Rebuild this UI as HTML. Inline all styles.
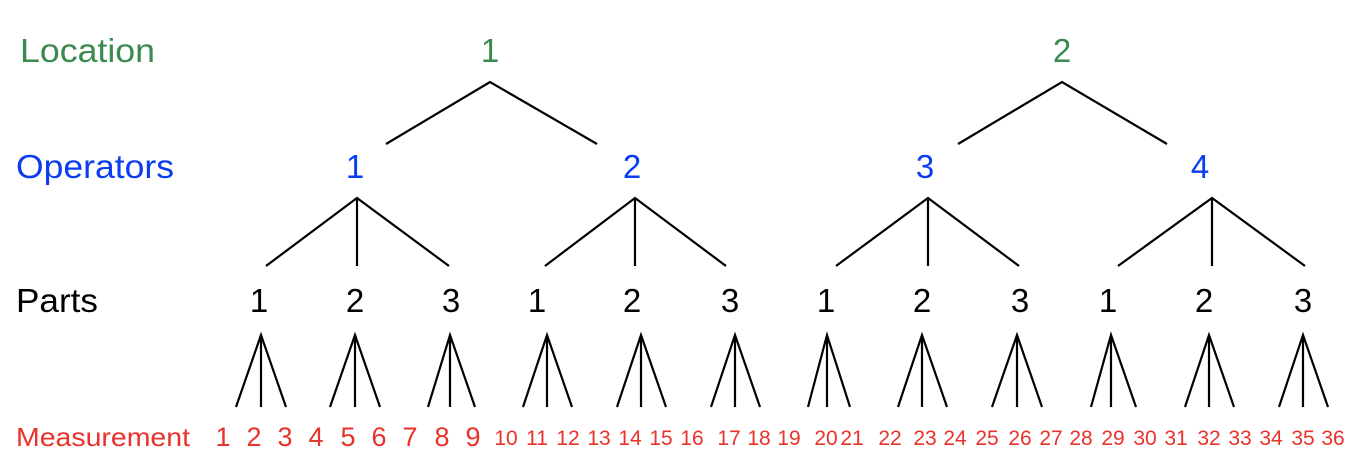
<!DOCTYPE html>
<html><head><style>
body{margin:0;background:#fff;width:1364px;height:466px;overflow:hidden}
svg{display:block}
text{font-family:"Liberation Sans",Arial,sans-serif}
</style></head><body>
<svg width="1364" height="466" xmlns="http://www.w3.org/2000/svg">
<g font-size="33">
<text x="20" y="62" fill="#3a8a4e" textLength="135" lengthAdjust="spacingAndGlyphs">Location</text>
<text x="490" y="62" fill="#3a8a4e" text-anchor="middle">1</text>
<text x="1062" y="62" fill="#3a8a4e" text-anchor="middle">2</text>
<text x="16" y="178" fill="#0a3cf0" textLength="158" lengthAdjust="spacingAndGlyphs">Operators</text>
<text x="355" y="178" fill="#0a3cf0" text-anchor="middle">1</text>
<text x="632" y="178" fill="#0a3cf0" text-anchor="middle">2</text>
<text x="925" y="178" fill="#0a3cf0" text-anchor="middle">3</text>
<text x="1200" y="178" fill="#0a3cf0" text-anchor="middle">4</text>
<text x="16" y="312" fill="#000" textLength="82" lengthAdjust="spacingAndGlyphs">Parts</text>
</g>
<g font-size="33" text-anchor="middle" fill="#000">
<text x="259" y="312">1</text><text x="355" y="312">2</text><text x="451" y="312">3</text>
<text x="537" y="312">1</text><text x="632" y="312">2</text><text x="730" y="312">3</text>
<text x="826" y="312">1</text><text x="922" y="312">2</text><text x="1020" y="312">3</text>
<text x="1108" y="312">1</text><text x="1204" y="312">2</text><text x="1303" y="312">3</text>
</g>
<g stroke="#000" stroke-width="2.2" fill="none">
<path d="M386 144L490 82L597 144M958 144L1062 82L1167 144"/>
<path d="M266 266L357 198L449 266M357 198V266"/>
<path d="M545 266L635 198L726 266M635 198V266"/>
<path d="M836 266L928 198L1019 266M928 198V266"/>
<path d="M1118 266L1212 198L1305 266M1212 198V266"/>
</g>
<g stroke="#000" stroke-width="2.2" fill="none">
<path d="M236 407L261 335L286 407M261 335V407"/>
<path d="M330 407L355 335L380 407M355 335V407"/>
<path d="M428 407L450 335L475 407M450 335V407"/>
<path d="M523 407L547 335L572 407M547 335V407"/>
<path d="M617 407L641 335L666 407M641 335V407"/>
<path d="M711 407L735 335L760 407M735 335V407"/>
<path d="M808 407L827 335L850 407M827 335V407"/>
<path d="M898 407L922 335L947 407M922 335V407"/>
<path d="M992 407L1017 335L1042 407M1017 335V407"/>
<path d="M1091 407L1111 335L1136 407M1111 335V407"/>
<path d="M1185 407L1209 335L1234 407M1209 335V407"/>
<path d="M1279 407L1303 335L1328 407M1303 335V407"/>
</g>
<text x="16" y="446" font-size="26" fill="#e8322a" textLength="174" lengthAdjust="spacingAndGlyphs">Measurement</text>
<g font-size="27" fill="#e8322a" text-anchor="middle">
<text x="223" y="446">1</text><text x="254" y="446">2</text><text x="285" y="446">3</text>
<text x="316" y="446">4</text><text x="348" y="446">5</text><text x="379" y="446">6</text>
<text x="410" y="446">7</text><text x="442" y="446">8</text><text x="473" y="446">9</text>
</g>
<g font-size="21" fill="#e8322a" text-anchor="middle">
<text x="506" y="445">10</text><text x="537" y="445">11</text><text x="568" y="445">12</text>
<text x="599" y="445">13</text><text x="630" y="445">14</text><text x="661" y="445">15</text>
<text x="692" y="445">16</text><text x="729" y="445">17</text><text x="759" y="445">18</text>
<text x="789" y="445">19</text><text x="826" y="445">20</text><text x="852" y="445">21</text>
<text x="890" y="445">22</text><text x="925" y="445">23</text><text x="955" y="445">24</text>
<text x="987" y="445">25</text><text x="1020" y="445">26</text><text x="1051" y="445">27</text>
<text x="1081" y="445">28</text><text x="1113" y="445">29</text><text x="1145" y="445">30</text>
<text x="1176" y="445">31</text><text x="1209" y="445">32</text><text x="1240" y="445">33</text>
<text x="1271" y="445">34</text><text x="1303" y="445">35</text><text x="1333" y="445">36</text>
</g>
</svg>
</body></html>
